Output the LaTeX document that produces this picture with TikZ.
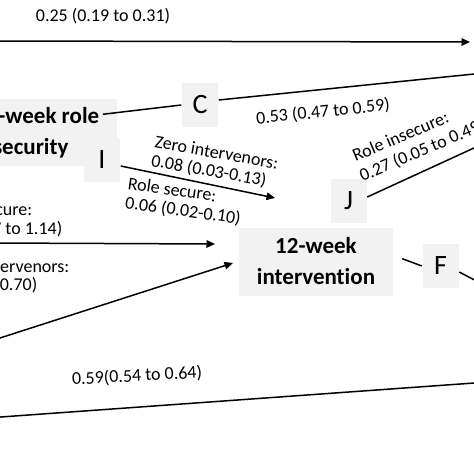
\documentclass[tikz,border=0pt]{standalone}
\usepackage{fontspec}
\setmainfont{Carlito}[Ligatures=CommonOff]
\usetikzlibrary{arrows.meta,positioning}
\definecolor{boxgray}{HTML}{F2F2F2}

\begin{document}
\begin{tikzpicture}[x=1pt,y=-1pt,>={Triangle[length=8.5pt,width=7.5pt]},line width=1.5pt,
  lab/.style={font=\fontsize{18}{19}\selectfont,inner sep=0pt},
  bigbox/.style={fill=boxgray,font=\bfseries\fontsize{23}{31}\selectfont,align=center,inner sep=0pt},
  letter/.style={fill=boxgray,font=\fontsize{28}{28}\selectfont,minimum width=36pt,minimum height=44pt,inner sep=0pt}]
  \useasboundingbox (0,0) rectangle (474,474);
  \clip (0,0) rectangle (474,474);

  % boxes
  \node[bigbox,anchor=east,minimum height=67pt,align=left,inner xsep=18pt] (role) at (118,132.5) {12-week role\\insecurity};
  \node[bigbox,minimum width=154pt,minimum height=68pt] (interv) at (316,261.5) {12-week\\intervention};
  \node[letter] (C) at (200,105) {C};
  \node[letter] (I) at (102,160) {I};
  \node[letter] (J) at (348.5,201) {J};
  \node[letter] (F) at (440.5,266) {F};

  % loose ends outside the crop
  \coordinate (topL) at (-5,41);
  \coordinate (topR) at (470,42);
  \coordinate (cR) at (484,73);
  \coordinate (midTip) at (275,198);
  \coordinate (jR) at (484,143.4);
  \coordinate (fR) at (484,285);
  \coordinate (upL) at (-5,243);
  \coordinate (upTip) at (215,244);
  \coordinate (loL) at (-5,339.6);
  \coordinate (loTip) at (233,263);
  \coordinate (botL) at (-5,417.4);
  \coordinate (botR) at (484,382.3);

  \draw[->] (topL) -- (topR);
  \draw ([xshift=-15pt,yshift=-16pt]role.north east) -- (C.west);
  \draw ([yshift=5pt]C.east) -- (cR);
  \draw[->] ([yshift=-6pt]I.east) -- (midTip);
  \draw ([yshift=4pt]J.east) -- (jR);
  \draw[shorten <=9pt] ([yshift=6pt]interv.east) -- (F.west);
  \draw ([yshift=-6pt]F.east) -- (fR);
  \draw[->] (upL) -- (upTip);
  \draw[->] (loL) -- (loTip);
  \draw (botL) -- (botR);

  % estimates
  \node[lab,anchor=base] (l25) at (103,21) {0.25 (0.19 to 0.31)};
  \node[lab,rotate=6] (l53) at (323,112) {0.53 (0.47 to 0.59)};
  \node[lab,rotate=-10,anchor=base west,align=left] (lzero) at (150,166) {Zero intervenors:\\0.08 (0.03-0.13)};
  \node[lab,rotate=-8,anchor=base west,align=left] (lsec) at (124,208) {Role secure:\\0.06 (0.02-0.10)};
  \node[lab,rotate=23,anchor=base west] (lins) at (355,162) {Role insecure:};
  \node[lab,rotate=23,anchor=base west] (lins2) at (362,182) {0.27 (0.05 to 0.49)};
  \node[lab,anchor=base east] (a1) at (33,215) {Role insecure:};
  \node[lab,anchor=base east] (a2) at (63,234) {0.95 (0.77 to 1.14)};
  \node[lab,anchor=base east] (b1) at (70,272) {Zero intervenors:};
  \node[lab,anchor=base east] (b2) at (38,290) {0.52 (0.35-0.70)};
  \node[lab,rotate=3] (l59) at (137,376) {0.59(0.54 to 0.64)};
\end{tikzpicture}
\end{document}
